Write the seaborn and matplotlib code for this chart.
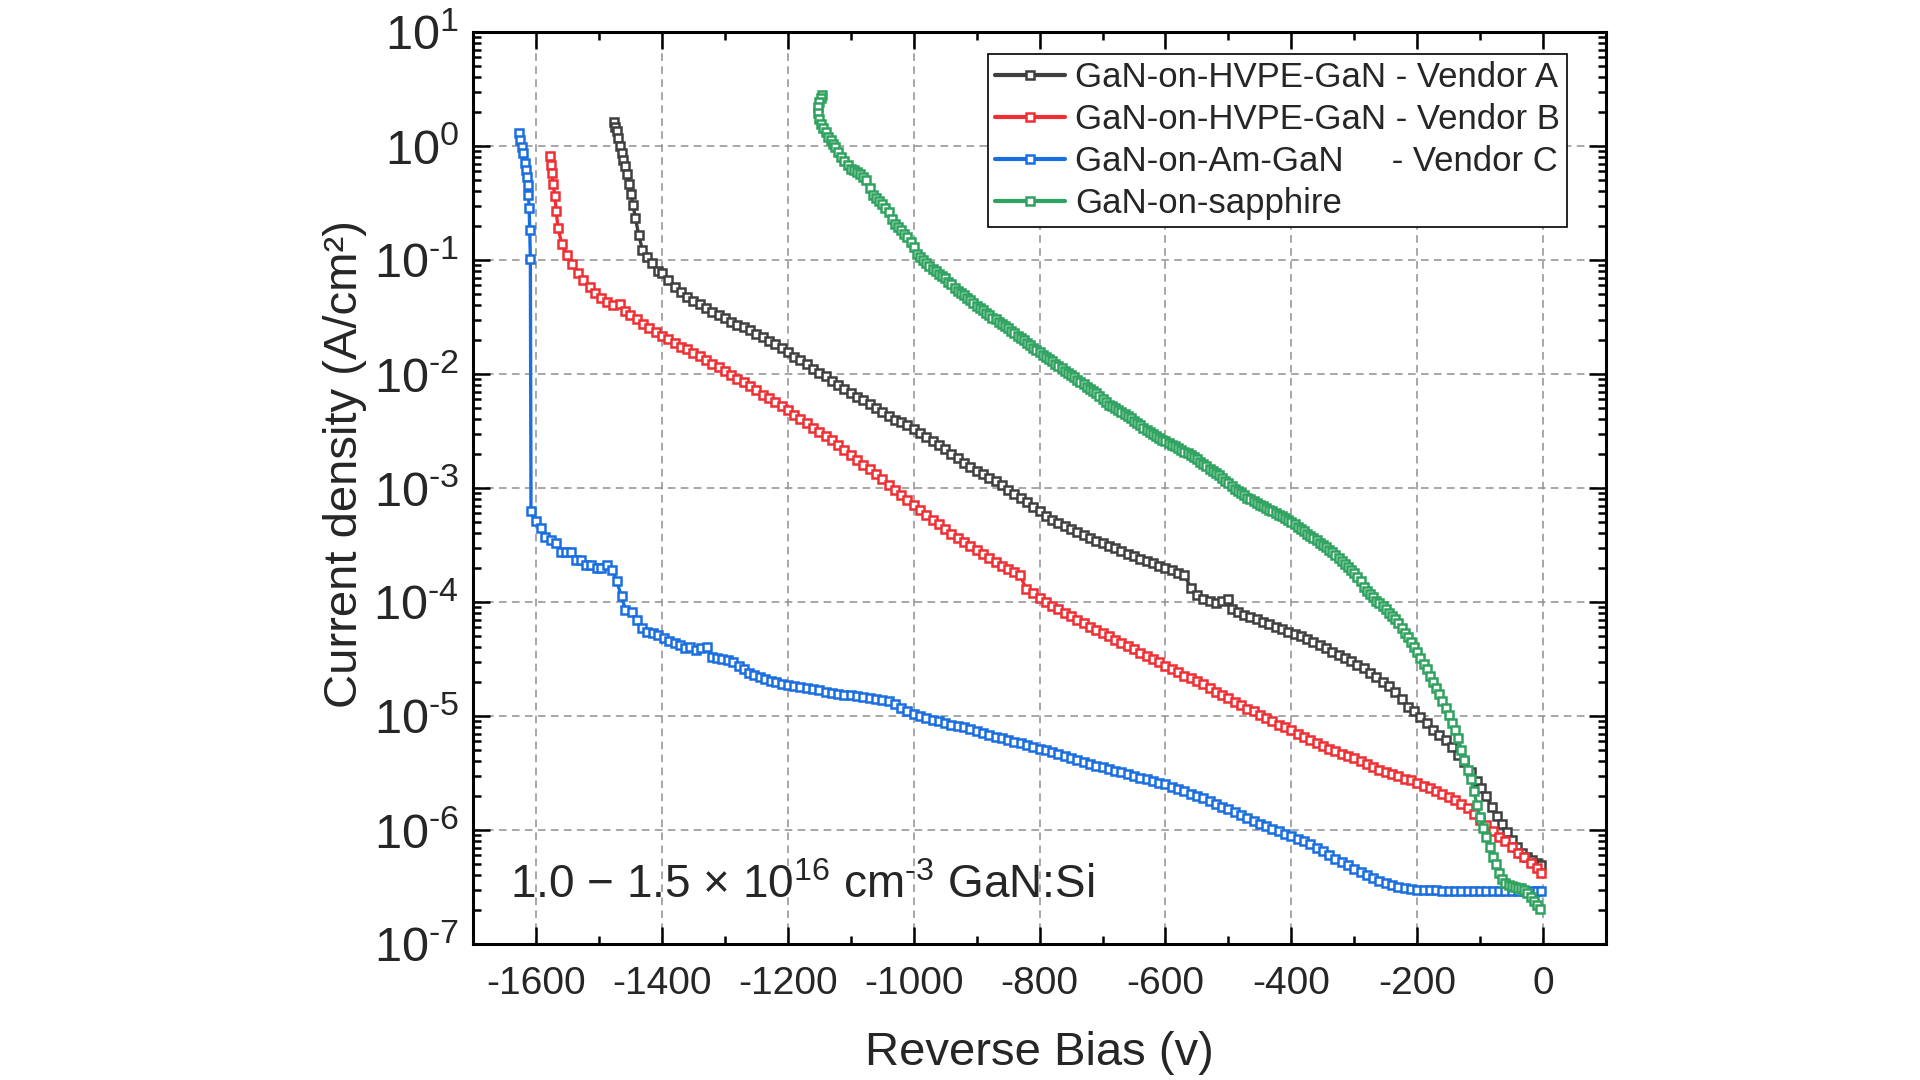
import numpy as np
import pandas as pd
import seaborn as sns
import matplotlib.pyplot as plt
from matplotlib.ticker import MultipleLocator, LogLocator, FuncFormatter, NullFormatter


# Reverse bias (V) and log10 of current density (A/cm^2)

vendor_a_bias = [
    -1476, -1474, -1472, -1469, -1467, -1464, -1462, -1459, -1456, -1452,
    -1449, -1446, -1442, -1437, -1431, -1423, -1415, -1406,
    -1400, -1390, -1380, -1370, -1360, -1350, -1340, -1330, -1320, -1310,
    -1300, -1290, -1280, -1270, -1260, -1250, -1240, -1230, -1220, -1210,
    -1200, -1190, -1180, -1170, -1160, -1150, -1140, -1130, -1120, -1110,
    -1100, -1090, -1080, -1070, -1060, -1050, -1040, -1030, -1020, -1010,
    -1000, -990, -980, -970, -960, -950, -940, -930, -920, -910,
    -900, -890, -880, -870, -860, -850, -840, -830, -820, -810,
    -800, -790, -780, -770, -760, -750, -740, -730, -720, -710,
    -700, -690, -680, -670, -660, -650, -640, -630, -620, -610,
    -600, -590, -580, -570, -560, -550, -540, -530, -520, -510,
    -500,
    -495, -485, -475, -465, -455, -445, -435, -425, -415, -405,
    -395, -385, -375, -365, -355, -345, -335, -325, -315, -305,
    -295, -285, -275, -265, -255, -245, -235, -225, -215, -205,
    -195, -185, -175, -165, -155, -145, -135, -125, -115, -105,
    -98, -90, -82, -74, -66, -58, -50, -42, -34, -26, -18, -10, -4,
]
vendor_a_exp = [
    0.21, 0.17, 0.13, 0.07, 0.0, -0.06, -0.12, -0.18, -0.25, -0.33,
    -0.42, -0.52, -0.63, -0.78, -0.91, -0.97, -1.03, -1.10,
    -1.117, -1.175, -1.234, -1.282, -1.323, -1.36, -1.383, -1.42, -1.455, -1.48,
    -1.512, -1.545, -1.57, -1.59, -1.615, -1.645, -1.675, -1.71, -1.74, -1.775,
    -1.805, -1.85, -1.88, -1.915, -1.955, -1.99, -2.02, -2.06, -2.10, -2.135,
    -2.17, -2.20, -2.23, -2.26, -2.295, -2.33, -2.365, -2.40, -2.425, -2.45,
    -2.485, -2.52, -2.555, -2.59, -2.625, -2.66, -2.70, -2.74, -2.78, -2.815,
    -2.85, -2.88, -2.915, -2.94, -2.97, -3.015, -3.055, -3.09, -3.125, -3.165,
    -3.20, -3.245, -3.285, -3.31, -3.335, -3.36, -3.385, -3.41, -3.435, -3.464,
    -3.485, -3.51, -3.53, -3.555, -3.58, -3.60, -3.62, -3.64, -3.66, -3.68,
    -3.70, -3.72, -3.742, -3.762, -3.873, -3.94, -3.97, -3.995, -4.01, -3.99,
    -3.975,
    -4.06, -4.088, -4.11, -4.13, -4.15, -4.175, -4.195, -4.215, -4.238, -4.26,
    -4.28, -4.30, -4.325, -4.35, -4.38, -4.405, -4.435, -4.465, -4.495, -4.52,
    -4.55, -4.58, -4.62, -4.66, -4.70, -4.74, -4.79, -4.85, -4.92, -4.96,
    -5.01, -5.06, -5.12, -5.17, -5.21, -5.27, -5.34, -5.40, -5.49, -5.57,
    -5.63, -5.70, -5.80, -5.88, -5.95, -6.02, -6.09, -6.15, -6.20, -6.24, -6.26, -6.29, -6.31,
]

vendor_b_bias = [
    -1578, -1577, -1575, -1573, -1570, -1568, -1565, -1559, -1551, -1543,
    -1533, -1525, -1515, -1506, -1496, -1487, -1477, -1467, -1458, -1450,
    -1440, -1430, -1420, -1410, -1400, -1390, -1380, -1370, -1360, -1350,
    -1340, -1330, -1320, -1310, -1300, -1290, -1280, -1270, -1260, -1250,
    -1240, -1230, -1220, -1210, -1200, -1190, -1180, -1170, -1160, -1150,
    -1140, -1130, -1120, -1110, -1100, -1090, -1080, -1070, -1060, -1050,
    -1040, -1030, -1020, -1010, -1000, -990, -980, -970, -960, -950,
    -940, -930, -920, -910, -900, -890, -880, -870, -860, -850,
    -840,
    -831, -821, -811,
    -800, -790, -780, -770, -760, -750, -740, -730, -720, -710,
    -700, -690, -680, -670, -660, -650, -640, -630, -620, -610,
    -600, -590, -580, -570, -560, -550, -540, -530, -520, -510,
    -500, -490, -480, -470, -460, -450, -440, -430, -420, -410,
    -400, -390, -380, -370, -360, -350, -340, -330, -320, -310,
    -300, -290, -280, -270, -260, -250, -240, -230, -220, -210,
    -200, -190, -180, -170, -160, -150, -140, -130, -120, -110,
    -100, -90, -80, -70, -60, -50, -40, -30, -20, -10,
    -4,
]
vendor_b_exp = [
    -0.09, -0.17, -0.24, -0.33, -0.44, -0.57, -0.72, -0.86, -0.956, -1.038,
    -1.117, -1.175, -1.234, -1.29, -1.33, -1.365, -1.395, -1.39, -1.445, -1.48,
    -1.52, -1.56, -1.595, -1.63, -1.665, -1.695, -1.725, -1.76, -1.785, -1.815,
    -1.845, -1.875, -1.91, -1.94, -1.97, -2.01, -2.04, -2.07, -2.105, -2.14,
    -2.18, -2.21, -2.25, -2.285, -2.32, -2.36, -2.395, -2.43, -2.47, -2.505,
    -2.545, -2.58, -2.62, -2.665, -2.71, -2.755, -2.795, -2.835, -2.88, -2.925,
    -2.975, -3.02, -3.06, -3.105, -3.145, -3.19, -3.235, -3.28, -3.32, -3.36,
    -3.40, -3.435, -3.47, -3.51, -3.545, -3.58, -3.615, -3.65, -3.68, -3.71,
    -3.74,
    -3.765, -3.89, -3.925,
    -3.965, -4.0, -4.035, -4.065, -4.095, -4.125, -4.155, -4.185, -4.215, -4.245,
    -4.27, -4.30, -4.335, -4.36, -4.39, -4.415, -4.445, -4.47, -4.50, -4.53,
    -4.56, -4.59, -4.615, -4.645, -4.67, -4.695, -4.72, -4.75, -4.785, -4.815,
    -4.845, -4.875, -4.905, -4.935, -4.96, -4.99, -5.02, -5.045, -5.075, -5.10,
    -5.125, -5.155, -5.18, -5.21, -5.24, -5.265, -5.29, -5.31, -5.33, -5.35,
    -5.37, -5.395, -5.42, -5.445, -5.47, -5.49, -5.51, -5.53, -5.55, -5.565,
    -5.585, -5.61, -5.635, -5.66, -5.685, -5.71, -5.74, -5.77, -5.81, -5.86,
    -5.91, -5.96, -6.01, -6.06, -6.10, -6.15, -6.20, -6.24, -6.285, -6.33,
    -6.38,
]

vendor_c_bias = [
    -1627, -1625, -1623, -1621, -1618, -1616, -1614, -1613, -1612, -1611,
    -1610, -1609, -1608,
    -1600, -1592, -1585, -1577, -1568, -1561, -1553, -1545, -1537, -1528,
    -1520, -1512, -1503, -1496, -1488, -1479, -1472, -1464, -1458, -1448,
    -1440, -1431, -1423, -1414, -1406, -1397, -1389, -1380, -1372, -1363,
    -1355, -1346, -1338, -1329, -1321, -1312, -1304, -1295, -1287, -1278,
    -1270, -1261, -1253, -1244, -1236, -1227, -1219,
    -1210, -1200, -1190, -1180, -1170, -1160, -1150, -1140, -1130, -1120,
    -1110, -1100, -1090, -1080, -1070, -1060, -1050, -1040, -1030, -1020,
    -1010, -1000, -990, -980, -970, -960, -950, -940, -930, -920,
    -910, -900, -890, -880, -870, -860, -850, -840, -830, -820,
    -810, -800, -790, -780, -770, -760, -750, -740, -730, -720,
    -710, -700, -690, -680, -670, -660, -650, -640, -630, -620,
    -610, -600, -590, -580, -570, -560, -550, -540, -530, -520,
    -510, -500, -490, -480, -470, -460, -450, -440, -430, -420,
    -410, -400, -390, -380, -370, -360, -350, -340, -330, -320,
    -310, -300, -290, -280, -270, -260, -250, -240, -230, -220,
    -210, -200, -190, -180,
    -170, -160, -150, -140, -130, -120, -110, -100, -90, -80,
    -70, -60, -50, -40, -30, -20, -10, -4,
]
vendor_c_exp = [
    0.11, 0.05, -0.01, -0.06, -0.15, -0.21, -0.275, -0.34, -0.43, -0.54,
    -0.74, -0.99, -3.20,
    -3.29, -3.35, -3.43, -3.46, -3.485, -3.56, -3.56, -3.56, -3.63, -3.63,
    -3.675, -3.675, -3.705, -3.705, -3.675, -3.715, -3.82, -3.95, -4.07, -4.09,
    -4.16, -4.23, -4.26, -4.275, -4.29, -4.32, -4.34, -4.36, -4.38, -4.40,
    -4.395, -4.42, -4.405, -4.395, -4.48, -4.495, -4.498, -4.505, -4.525, -4.56,
    -4.59, -4.62, -4.64, -4.655, -4.673, -4.69, -4.702,
    -4.715, -4.726, -4.735, -4.746, -4.755, -4.765, -4.775, -4.785, -4.795, -4.805,
    -4.813, -4.82, -4.828, -4.836, -4.845, -4.852, -4.86, -4.872, -4.895, -4.93,
    -4.955, -4.98, -5.0, -5.02, -5.033, -5.047, -5.06, -5.075, -5.088, -5.10,
    -5.118, -5.133, -5.15, -5.165, -5.18, -5.195, -5.21, -5.225, -5.24, -5.255,
    -5.27, -5.285, -5.30, -5.318, -5.335, -5.35, -5.37, -5.39, -5.405, -5.42,
    -5.435, -5.45, -5.465, -5.48, -5.495, -5.51, -5.525, -5.54, -5.555, -5.57,
    -5.585, -5.60, -5.62, -5.64, -5.66, -5.68, -5.70, -5.72, -5.745, -5.77,
    -5.795, -5.82, -5.845, -5.87, -5.895, -5.92, -5.945, -5.965, -5.99, -6.01,
    -6.035, -6.055, -6.075, -6.095, -6.125, -6.155, -6.185, -6.215, -6.25, -6.28,
    -6.31, -6.34, -6.37, -6.395, -6.42, -6.445, -6.465, -6.485, -6.50, -6.51,
    -6.52, -6.525, -6.528, -6.53,
    -6.53, -6.532, -6.533, -6.533, -6.534, -6.534, -6.534, -6.535, -6.535, -6.535,
    -6.535, -6.535, -6.536, -6.536, -6.536, -6.536, -6.537, -6.537,
]

sapphire_bias = [
    -1146, -1148, -1150, -1152, -1152, -1150, -1147, -1144, -1140, -1136,
    -1132, -1128, -1125,
    -1120, -1115, -1110, -1105, -1100, -1095, -1090, -1085, -1080, -1075,
    -1070, -1065, -1060, -1055, -1050, -1045, -1040, -1035, -1030, -1025,
    -1020, -1015, -1010, -1005, -1000, -995, -990, -985, -980, -975,
    -970, -965, -960, -955, -950, -945, -940, -935, -930, -925,
    -920, -915, -910, -905, -900, -895, -890, -885, -880, -875,
    -870, -865, -860, -855, -850, -845, -840, -835, -830, -825,
    -820, -815, -810, -805, -800, -795, -790, -785, -780, -775,
    -770, -765, -760, -755, -750, -745, -740, -735, -730, -725,
    -720, -715, -710, -705, -700, -695, -690, -685, -680, -675,
    -670, -665, -660, -655, -650, -645, -640, -635, -630, -625,
    -620, -615, -610, -605, -600, -595, -590, -585, -580, -575,
    -570, -565, -560, -555, -550, -545, -540, -535, -530, -525,
    -520, -515, -510, -505, -500, -495, -490, -485, -480, -475,
    -470, -465, -460, -455, -450, -445, -440, -435, -430, -425,
    -420, -415, -410, -405, -400, -395, -390, -385, -380, -375,
    -370, -365, -360, -355, -350, -345, -340, -335, -330, -325,
    -320, -315, -310, -305, -300, -295, -290, -285, -280, -275,
    -270, -265, -260, -255, -250, -245, -240, -235, -230, -225,
    -220, -215, -210, -205, -200, -195, -190, -185, -180, -175,
    -170, -165, -160, -155, -150, -145, -140, -135, -130, -125,
    -120, -115, -110, -105, -100, -95, -90, -85, -80, -75,
    -70, -65, -60, -55, -50, -45, -40, -35, -30, -25,
    -20, -15, -10, -5,
]
sapphire_exp = [
    0.45, 0.42, 0.39, 0.34, 0.29, 0.24, 0.19, 0.155, 0.12, 0.08,
    0.05, 0.02, -0.006,
    -0.05, -0.094, -0.13, -0.17, -0.20, -0.215, -0.23, -0.245, -0.27, -0.30,
    -0.37, -0.43, -0.455, -0.48, -0.51, -0.54, -0.58, -0.64, -0.68, -0.71,
    -0.735, -0.77, -0.80, -0.84, -0.89, -0.945, -0.97, -1.0, -1.03, -1.055,
    -1.08, -1.10, -1.12, -1.14, -1.16, -1.19, -1.215, -1.245, -1.27, -1.29,
    -1.31, -1.33, -1.355, -1.375, -1.40, -1.42, -1.44, -1.465, -1.485, -1.505,
    -1.52, -1.54, -1.56, -1.575, -1.595, -1.62, -1.64, -1.665, -1.685, -1.705,
    -1.73, -1.75, -1.77, -1.79, -1.81, -1.83, -1.85, -1.87, -1.89, -1.91,
    -1.93, -1.95, -1.97, -1.99, -2.01, -2.03, -2.05, -2.07, -2.09, -2.11,
    -2.13, -2.15, -2.17, -2.19, -2.22, -2.25, -2.27, -2.285, -2.30, -2.32,
    -2.335, -2.35, -2.37, -2.39, -2.41, -2.43, -2.45, -2.47, -2.49, -2.51,
    -2.525, -2.54, -2.56, -2.575, -2.59, -2.605, -2.62, -2.635, -2.65, -2.665,
    -2.68, -2.695, -2.71, -2.73, -2.75, -2.77, -2.79, -2.81, -2.83, -2.85,
    -2.87, -2.89, -2.915, -2.94, -2.96, -2.985, -3.005, -3.025, -3.045, -3.065,
    -3.085, -3.10, -3.115, -3.13, -3.145, -3.16, -3.175, -3.19, -3.205, -3.22,
    -3.235, -3.25, -3.265, -3.28, -3.30, -3.32, -3.34, -3.36, -3.38, -3.40,
    -3.42, -3.44, -3.46, -3.48, -3.50, -3.52, -3.54, -3.565, -3.59, -3.615,
    -3.64, -3.665, -3.69, -3.715, -3.745, -3.78, -3.82, -3.87, -3.905, -3.93,
    -3.96, -3.99, -4.01, -4.035, -4.065, -4.095, -4.12, -4.15, -4.185, -4.225,
    -4.27, -4.31, -4.35, -4.395, -4.44, -4.49, -4.54, -4.59, -4.645, -4.70,
    -4.755, -4.805, -4.87, -4.93, -4.99, -5.06, -5.12, -5.19, -5.30, -5.385,
    -5.47, -5.55, -5.66, -5.78, -5.89, -5.985, -6.065, -6.15, -6.235, -6.30,
    -6.38, -6.43, -6.465, -6.485, -6.49, -6.497, -6.505, -6.512, -6.53, -6.555,
    -6.59, -6.62, -6.66, -6.69,
]

labels = [
    'GaN-on-HVPE-GaN - Vendor A',
    'GaN-on-HVPE-GaN - Vendor B',
    'GaN-on-Am-GaN     - Vendor C',
    'GaN-on-sapphire',
]
colors = ['#3f3f3f', '#ef2f33', '#1a6fe0', '#2ea35f']


sns.set_style('ticks')
plt.rcParams['font.family'] = ['Liberation Sans', 'DejaVu Sans']
plt.rcParams['mathtext.fontset'] = 'custom'
plt.rcParams['mathtext.rm'] = 'Liberation Sans'
plt.rcParams['mathtext.it'] = 'Liberation Sans:italic'
plt.rcParams['mathtext.bf'] = 'Liberation Sans:bold'
plt.rcParams['axes.unicode_minus'] = False

fig = plt.figure(figsize=(19.2, 10.8), dpi=100)
ax = fig.add_axes([0.2464, 0.1259, 0.5901, 0.8445])

all_series = [
    (vendor_a_bias, vendor_a_exp),
    (vendor_b_bias, vendor_b_exp),
    (vendor_c_bias, vendor_c_exp),
    (sapphire_bias, sapphire_exp),
]

for (bias, exp), label, color in zip(all_series, labels, colors):
    df = pd.DataFrame({'bias': bias, 'current': np.power(10.0, exp)})
    sns.lineplot(
        data=df, x='bias', y='current', ax=ax,
        sort=False, estimator=None,
        color=color, linewidth=2.4,
        marker='s', markersize=6.2, markeredgewidth=1.8,
        markeredgecolor=color, markerfacecolor='white',
        label=label,
    )

ax.set_yscale('log')
ax.set_xlim(-1700, 100)
ax.set_ylim(1e-7, 1e1)


def decade_label(v, pos):
    # hyphen-style exponent sign, like the original axis
    e = int(round(np.log10(v)))
    sign = r'\text{-}' if e < 0 else ''
    return r'$\mathregular{10^{%s%d}}$' % (sign, abs(e))


ax.xaxis.set_major_locator(MultipleLocator(200))
ax.xaxis.set_minor_locator(MultipleLocator(100))
ax.yaxis.set_major_locator(LogLocator(base=10, numticks=20))
ax.yaxis.set_minor_locator(LogLocator(base=10, subs=np.arange(2, 10), numticks=20))
ax.yaxis.set_minor_formatter(NullFormatter())
ax.yaxis.set_major_formatter(FuncFormatter(decade_label))

ax.tick_params(which='both', direction='in', top=True, right=True, width=1.8, color='black')
ax.tick_params(which='major', length=12)
ax.tick_params(which='minor', length=6)
ax.tick_params(axis='x', which='major', labelsize=28, pad=16)
ax.tick_params(axis='y', which='major', labelsize=35, pad=10)

for spine in ax.spines.values():
    spine.set_linewidth(2.2)
    spine.set_color('black')

ax.grid(True, which='major', linestyle=(0, (5, 3.5)), color='#909090', linewidth=1.1)

ax.set_xlabel('Reverse Bias (v)', fontsize=34, va='center')
ax.set_ylabel('Current density (A/cm²)', fontsize=34, va='center')
ax.xaxis.set_label_coords(0.5, -0.12)
ax.yaxis.set_label_coords(-0.113, 0.526)

ax.text(0.033, 0.051,
        r'1.0 $\mathregular{-}$ 1.5 $\mathregular{\times}$ $\mathregular{10^{16}}$ cm$\mathregular{^{\text{-}3}}$ GaN:Si',
        transform=ax.transAxes, fontsize=33, ha='left', va='baseline')

leg = ax.legend(
    loc='upper right', bbox_to_anchor=(0.9656, 0.9759), borderaxespad=0,
    fontsize=25, frameon=True, fancybox=False, edgecolor='black', framealpha=1,
    handlelength=2.0, handletextpad=0.3, borderpad=0.2, labelspacing=0.26,
)
leg.get_frame().set_linewidth(1.2)
for handle in leg.get_lines():
    handle.set_linewidth(3)

fig.savefig('out.png', dpi=100)
